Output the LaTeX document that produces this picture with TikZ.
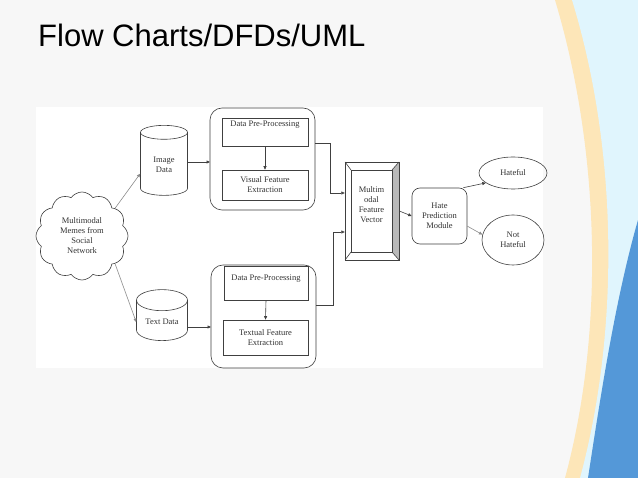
\documentclass[tikz,border=0pt]{standalone}
\usepackage{fontspec}
\setmainfont{Liberation Serif}
\newfontfamily\titlefont{Liberation Sans}
\usetikzlibrary{shapes.geometric,shapes.symbols,arrows.meta}
\begin{document}
\begin{tikzpicture}[x=1pt,y=-1pt,
  lbl/.style={font=\fontsize{8.5}{10}\selectfont,align=center,text=black!80},
  ln/.style={draw=black!75,line width=0.6pt},
  arr/.style={ln,-{Triangle[length=3.5pt,width=3pt]}},
  box/.style={ln,rectangle,inner sep=0pt},
  cyl/.style={ln,cylinder,shape border rotate=90,aspect=0.6,inner sep=1pt,lbl},
]
\useasboundingbox (0,0) rectangle (638,478);
% background
\fill[gray!6] (0,0) rectangle (638,478);
\fill[yellow!30!orange!25] (555,0) .. controls (600,150) and (605,330) .. (565,478) -- (638,478) -- (638,0) -- cycle;
\fill[cyan!12] (572,0) .. controls (618,150) and (620,330) .. (580,478) -- (638,478) -- (638,0) -- cycle;
\fill[cyan!60!blue!70] (638,220) .. controls (615,300) and (600,400) .. (588,478) -- (638,478) -- cycle;
\fill[white] (36,107) rectangle (543,368);
\node[anchor=base west,inner sep=0pt,font=\titlefont\fontsize{31}{36}\selectfont] (title) at (38,47) {Flow Charts/DFDs/UML};
% nodes
\node[ln,cloud,cloud puffs=12,cloud puff arc=110,minimum width=92pt,minimum height=88pt,inner sep=0pt,lbl] (cloud) at (82,236) {Multimodal\\Memes from\\Social\\Network};
\node[cyl,minimum width=47pt,minimum height=70pt] (img) at (164,165) {Image\\Data};
\node[cyl,minimum width=51pt,minimum height=51pt] (txt) at (162,322) {Text Data};
\draw[ln,rounded corners=12pt] (210,108) rectangle (315,210);
\coordinate (topR) at (315,143);
\coordinate (topL) at (210,162);
\draw[ln,rounded corners=12pt] (211,265) rectangle (316,368);
\coordinate (botR) at (316,305);
\coordinate (botL) at (211,327);
\node[box,minimum width=86pt,minimum height=28pt,lbl] (dpp1) at (265,132) {};
\node[lbl,anchor=north] at (dpp1.north) {Data Pre-Processing};
\node[box,minimum width=86pt,minimum height=30pt,lbl] (vfe) at (265,185) {Visual Feature\\Extraction};
\node[box,minimum width=84pt,minimum height=34pt,lbl] (dpp2) at (266,283) {};
\node[lbl,anchor=north] at ([yshift=-6pt]dpp2.north) {Data Pre-Processing};
\node[box,minimum width=85pt,minimum height=35pt,lbl] (tfe) at (265.5,337.5) {Textual Feature\\Extraction};
% MFV
\fill[gray!55] (392,170) -- (399,162) -- (399,260) -- (392,252) -- cycle;
\draw[ln] (345,162) rectangle (399,260);
\draw[ln] (351,170) rectangle (392,252);
\draw[ln] (345,162) -- (351,170) (399,162) -- (392,170) (345,260) -- (351,252) (399,260) -- (392,252);
\node[minimum width=54pt,minimum height=98pt,inner sep=0pt] (mfv) at (372,211) {};
\node[lbl] at (371.5,205) {Multim\\odal\\Feature\\Vector};
\node[ln,rounded corners=8pt,minimum width=55pt,minimum height=56pt,inner sep=0pt,lbl] (hpm) at (439.5,216) {Hate\\Prediction\\Module};
\node[ln,ellipse,minimum width=68pt,minimum height=32pt,inner sep=0pt,lbl] (hate) at (513,173) {Hateful};
\node[ln,ellipse,minimum width=62pt,minimum height=50pt,inner sep=0pt,lbl] (not) at (513,240) {Not\\Hateful};
% connectors
\draw[arr,draw=black!45] (cloud.40) -- (img.200);
\draw[arr,draw=black!45] (cloud.-40) -- (txt.west);
\draw[arr] (img.east |- topL) -- (topL);
\draw[arr] (txt.east |- botL) -- (botL);
\draw[arr] (dpp1.south) -- (vfe.north);
\draw[arr] (dpp2.south) -- (tfe.north);
\draw[arr] (topR) -- (330,143) -- (330,193) -- (mfv.west |- 0,193);
\draw[arr] (botR) -- (333,305) -- (333,232) -- (mfv.west |- 0,232);
\draw[arr] (mfv.east) -- (hpm.west);
\draw[arr] ([xshift=-4pt]hpm.north east) -- (hate.200);
\draw[arr,draw=black!45] (hpm.-20) -- (not.170);
\end{tikzpicture}
\end{document}
